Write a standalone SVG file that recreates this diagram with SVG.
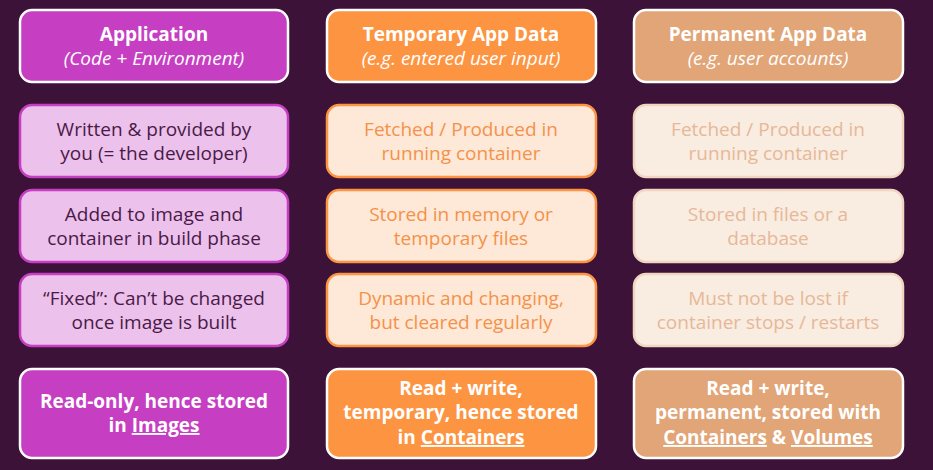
<svg xmlns="http://www.w3.org/2000/svg" width="933" height="470" viewBox="0 0 933 470">
<style>
text{font-family:"Open Sans","Liberation Sans",sans-serif;font-size:19px;text-anchor:middle}
.b{font-weight:bold;fill:#fff}
.i{font-style:italic;fill:#fff}
.hd{stroke:#fff;stroke-width:2.5}
.p{fill:#c63fc2}.lp{fill:#ecc1ec;stroke:#c63fc2;stroke-width:2.5}
.o{fill:#fd9441}.lo{fill:#fee8d7;stroke:#fd9441;stroke-width:2.5}
.t{fill:#e1a577}.lt{fill:#f9ece1;stroke:#f0d5c0;stroke-width:2.5}
.tp{fill:#4a1a47}.to{fill:#f3924a}.tt{fill:#e6b898}
</style>
<rect width="933" height="470" fill="#3d1239"/>
<g id="app-head"><rect class="p hd" x="20" y="10" width="268" height="72" rx="12"/><text class="b" x="154" y="41">Application</text><text class="i" x="154" y="65">(Code + Environment)</text></g>
<g id="tmp-head"><rect class="o hd" x="327" y="10" width="269" height="72" rx="12"/><text class="b" x="461" y="41">Temporary App Data</text><text class="i" x="461" y="65">(e.g. entered user input)</text></g>
<g id="perm-head"><rect class="t hd" x="634" y="10" width="269" height="72" rx="12"/><text class="b" x="768" y="41">Permanent App Data</text><text class="i" x="768" y="65">(e.g. user accounts)</text></g>

<g id="app-1"><rect class="lp" x="20" y="105" width="268" height="72" rx="12"/><text class="tp" x="154" y="136">Written &amp; provided by</text><text class="tp" x="154" y="160">you (= the developer)</text></g>
<g id="app-2"><rect class="lp" x="20" y="190" width="268" height="72" rx="12"/><text class="tp" x="154" y="221">Added to image and</text><text class="tp" x="154" y="245">container in build phase</text></g>
<g id="app-3"><rect class="lp" x="20" y="274" width="268" height="72" rx="12"/><text class="tp" x="154" y="305">“Fixed”: Can’t be changed</text><text class="tp" x="154" y="329">once image is built</text></g>

<g id="tmp-1"><rect class="lo" x="327" y="105" width="269" height="72" rx="12"/><text class="to" x="461" y="136">Fetched / Produced in</text><text class="to" x="461" y="160">running container</text></g>
<g id="tmp-2"><rect class="lo" x="327" y="190" width="269" height="72" rx="12"/><text class="to" x="461" y="221">Stored in memory or</text><text class="to" x="461" y="245">temporary files</text></g>
<g id="tmp-3"><rect class="lo" x="327" y="274" width="269" height="72" rx="12"/><text class="to" x="461" y="305">Dynamic and changing,</text><text class="to" x="461" y="329">but cleared regularly</text></g>

<g id="perm-1"><rect class="lt" x="634" y="105" width="269" height="72" rx="12"/><text class="tt" x="768" y="136">Fetched / Produced in</text><text class="tt" x="768" y="160">running container</text></g>
<g id="perm-2"><rect class="lt" x="634" y="190" width="269" height="72" rx="12"/><text class="tt" x="768" y="221">Stored in files or a</text><text class="tt" x="768" y="245">database</text></g>
<g id="perm-3"><rect class="lt" x="634" y="274" width="269" height="72" rx="12"/><text class="tt" x="768" y="305">Must not be lost if</text><text class="tt" x="768" y="329">container stops / restarts</text></g>

<g id="app-4"><rect class="p hd" x="20" y="369" width="268" height="89" rx="12"/><text class="b" x="154" y="408">Read-only, hence stored</text><text class="b" x="154" y="432">in <tspan text-decoration="underline">Images</tspan></text></g>
<g id="tmp-4"><rect class="o hd" x="327" y="369" width="269" height="89" rx="12"/><text class="b" x="461" y="395">Read + write,</text><text class="b" x="461" y="419">temporary, hence stored</text><text class="b" x="461" y="444">in <tspan text-decoration="underline">Containers</tspan></text></g>
<g id="perm-4"><rect class="t hd" x="634" y="369" width="269" height="89" rx="12"/><text class="b" x="768" y="395">Read + write,</text><text class="b" x="768" y="419">permanent, stored with</text><text class="b" x="768" y="444"><tspan text-decoration="underline">Containers</tspan> &amp; <tspan text-decoration="underline">Volumes</tspan></text></g>
<g id="connectors"/>
</svg>
